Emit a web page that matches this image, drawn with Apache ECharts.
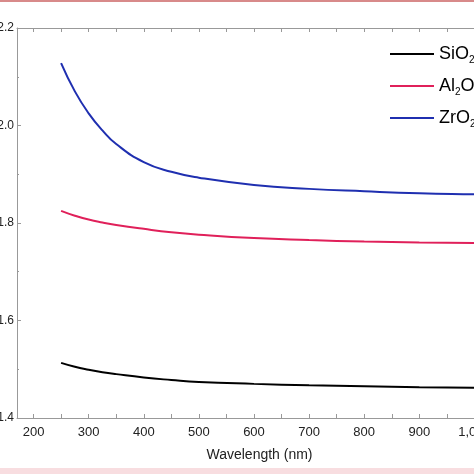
<!DOCTYPE html>
<html><head><meta charset="utf-8">
<script src="https://cdn.jsdelivr.net/npm/echarts@6/dist/echarts.min.js"></script>
<style>html,body{margin:0;background:#fff}#c{width:474px;height:474px}</style>
</head><body><div id="c"></div>
<script>
var wl = [250, 275, 300, 325, 350, 400, 450, 500, 600, 700, 800, 900, 1000, 1050];
var sio2 = [1.513, 1.505, 1.499, 1.494, 1.490, 1.483, 1.478, 1.474, 1.470, 1.467, 1.465, 1.463, 1.462, 1.461];
var al2o3 = [1.825, 1.815, 1.807, 1.801, 1.796, 1.788, 1.781, 1.776, 1.769, 1.765, 1.762, 1.760, 1.759, 1.758];
var zro2 = [2.128, 2.07, 2.025, 1.99, 1.962, 1.925, 1.905, 1.893, 1.878, 1.870, 1.865, 1.861, 1.859, 1.858];
var xTicks = [200, 300, 400, 500, 600, 700, 800, 900, 1000];
var xMinor = [250, 350, 450, 550, 650, 750, 850, 950];
var names = ['SiO2', 'Al2O3', 'ZrO2'];
var colors = ['#000000', '#e0205a', '#1f2fb0'];

function pairs(arr){
  var out = [];
  for(var i=0;i<wl.length;i++){ out.push([wl[i], arr[i]]); }
  return out;
}
var chart = echarts.init(document.getElementById('c'));
var axisCol = '#999';
var series = [sio2, al2o3, zro2].map(function(a, i){
  return {name: names[i], type: 'line', smooth: true, showSymbol: false,
    data: pairs(a), lineStyle: {color: colors[i], width: 2}, itemStyle: {color: colors[i]}};
});
function xAx(pos, labels){
  return {
    type: 'value', position: pos, min: 170, max: 1050,
    name: labels ? 'Wavelength (nm)' : '', nameLocation: 'middle', nameGap: 30,
    nameTextStyle: {fontSize: 14, color: '#222', fontFamily: 'Liberation Sans, Arial'},
    axisLine: {lineStyle: {color: axisCol}},
    axisTick: {inside: true, length: 4, customValues: xTicks.concat(xMinor), lineStyle: {color: axisCol}},
    axisLabel: {show: labels, color: '#222', fontSize: 13, customValues: xTicks},
    splitLine: {show: false}
  };
}
chart.setOption({
  animation: false,
  graphic: [
    {type: 'rect', shape: {x: 0, y: 0, width: 474, height: 2}, style: {fill: '#d88a8a'}},
    {type: 'rect', shape: {x: 0, y: 468, width: 474, height: 6}, style: {fill: '#f8dde0'}}
  ],
  grid: {left: 17, right: -28, top: 28, bottom: 56, outerBoundsMode: 'none'},
  legend: {
    left: 385, top: 40, orient: 'vertical', itemGap: 12, itemWidth: 44, itemHeight: 2,
    icon: 'rect',
    textStyle: {fontSize: 18, color: '#000', fontFamily: 'Liberation Sans, Arial',
      rich: {s: {fontSize: 10, verticalAlign: 'bottom', padding: [12, 0, 0, 0]}}},
    formatter: function(n){ return n.replace(/(\d)/g, '{s|$1}'); },
    data: names.map(function(n){ return {name: n}; })
  },
  xAxis: [xAx('bottom', true), xAx('top', false)],
  yAxis: {
    type: 'value', min: 1.4, max: 2.2, interval: 0.2,
    axisLine: {show: true, lineStyle: {color: axisCol}},
    axisTick: {inside: true, length: 4, lineStyle: {color: axisCol}},
    minorTick: {show: true, splitNumber: 2, length: 2, lineStyle: {color: axisCol}},
    axisLabel: {color: '#222', fontSize: 12, margin: 3, formatter: function(v){ return v.toFixed(1); }},
    splitLine: {show: false}
  },
  series: series
});
</script>
</body></html>
